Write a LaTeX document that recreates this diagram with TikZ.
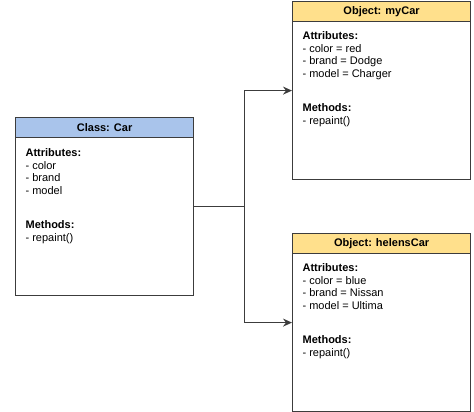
\documentclass[tikz,border=0pt]{standalone}
\usepackage{fontspec}
\setsansfont{Liberation Sans}
\usetikzlibrary{arrows.meta, positioning, calc}
\definecolor{cblue}{HTML}{A9C4EB}
\definecolor{cyellow}{HTML}{FFE08C}
\definecolor{cline}{HTML}{3C3C3C}
\tikzset{
  every picture/.style={font=\sffamily\fontsize{11}{12.5}\selectfont, line width=1.2pt},
  card/.style={draw=cline, fill=white, minimum width=178pt, minimum height=178pt, inner sep=0pt},
  cardhead/.style={draw=cline, fill=#1, minimum width=178pt, minimum height=20pt, inner sep=0pt, font=\sffamily\bfseries\fontsize{11}{12.5}\selectfont},
  cardhead/.default=cyellow,
  cardtext/.style={align=left, anchor=north west, inner sep=0pt},
  arrow/.style={-{Stealth[length=9pt, width=8pt, inset=3pt]}, draw=cline, line width=1.2pt},
}
\begin{document}
\begin{tikzpicture}[x=1pt, y=-1pt]
  \useasboundingbox (0,0) rectangle (474,412);
  % class and its two objects
  \node[card, anchor=north west] (car) at (15,117) {};
  \node[cardhead=cblue, anchor=north] (carhead) at (car.north) {Class: Car};
  \node[cardtext] (cartext) at (25,148)
    {\textbf{Attributes:}\\- color\\- brand\\- model\\[2em]\textbf{Methods:}\\- repaint()};

  \node[card, anchor=north west] (mycar) at (292,1) {};
  \node[cardhead, anchor=north] (mycarhead) at (mycar.north) {Object: myCar};
  \node[cardtext] (mycartext) at (302,31)
    {\textbf{Attributes:}\\- color = red\\- brand = Dodge\\- model = Charger\\[2em]\textbf{Methods:}\\- repaint()};

  \node[card, anchor=north west] (helens) at (292,233) {};
  \node[cardhead, anchor=north] (helenshead) at (helens.north) {Object: helensCar};
  \node[cardtext] (helenstext) at (302,263)
    {\textbf{Attributes:}\\- color = blue\\- brand = Nissan\\- model = Ultima\\[2em]\textbf{Methods:}\\- repaint()};

  % instantiation links
  \coordinate (split) at ($(car.east)+(50,0)$);
  \draw[cline, line width=1.2pt] (car.east) -- (split);
  \draw[arrow] (split) |- (mycar.west);
  \draw[arrow] (split) |- (helens.west);
\end{tikzpicture}
\end{document}
